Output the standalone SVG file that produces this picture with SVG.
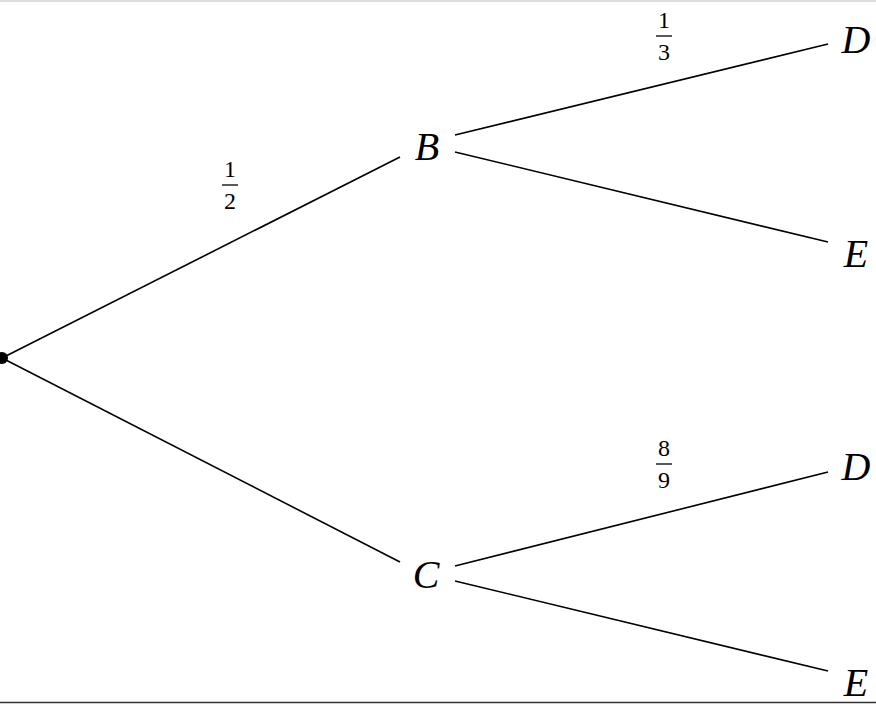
<svg xmlns="http://www.w3.org/2000/svg" width="876" height="704" viewBox="0 0 876 704">
<style>
.e{stroke:#000;stroke-width:1.6;fill:none}
.n{font-family:"Liberation Serif",serif;font-style:italic;font-size:40px;text-anchor:middle}
.f{font-family:"Liberation Serif",serif;font-size:24px;text-anchor:middle}
</style>
<rect width="876" height="704" fill="#fff"/>
<line x1="0" y1="1" x2="876" y2="1" stroke="#ddd" stroke-width="2"/>
<line x1="0" y1="702.5" x2="876" y2="702.5" stroke="#333" stroke-width="1.5"/>
<g id="connectors">
<line class="e" x1="2" y1="358" x2="400" y2="157"/>
<line class="e" x1="2" y1="358" x2="400" y2="562"/>
<line class="e" x1="455" y1="135" x2="828" y2="44"/>
<line class="e" x1="455" y1="152" x2="828" y2="242"/>
<line class="e" x1="455" y1="566" x2="828" y2="472"/>
<line class="e" x1="455" y1="581" x2="828" y2="671"/>
<g id="l12"><text class="f" x="230" y="177">1</text><line x1="222" y1="185" x2="238" y2="185" stroke="#000" stroke-width="1.3"/><text class="f" x="230" y="209">2</text></g>
<g id="l13"><text class="f" x="664" y="28">1</text><line x1="656" y1="36" x2="672" y2="36" stroke="#000" stroke-width="1.3"/><text class="f" x="664" y="60">3</text></g>
<g id="l89"><text class="f" x="664" y="456">8</text><line x1="656" y1="464" x2="672" y2="464" stroke="#000" stroke-width="1.3"/><text class="f" x="664" y="488">9</text></g>
</g>
<g id="root"><circle cx="2" cy="358" r="6" fill="#000"/></g>
<g id="B"><text class="n" x="427" y="160">B</text></g>
<g id="C"><text class="n" x="426" y="588">C</text></g>
<g id="D1"><text class="n" x="856" y="53">D</text></g>
<g id="E1"><text class="n" x="856" y="267">E</text></g>
<g id="D2"><text class="n" x="856" y="480">D</text></g>
<g id="E2"><text class="n" x="856" y="696">E</text></g>
</svg>
